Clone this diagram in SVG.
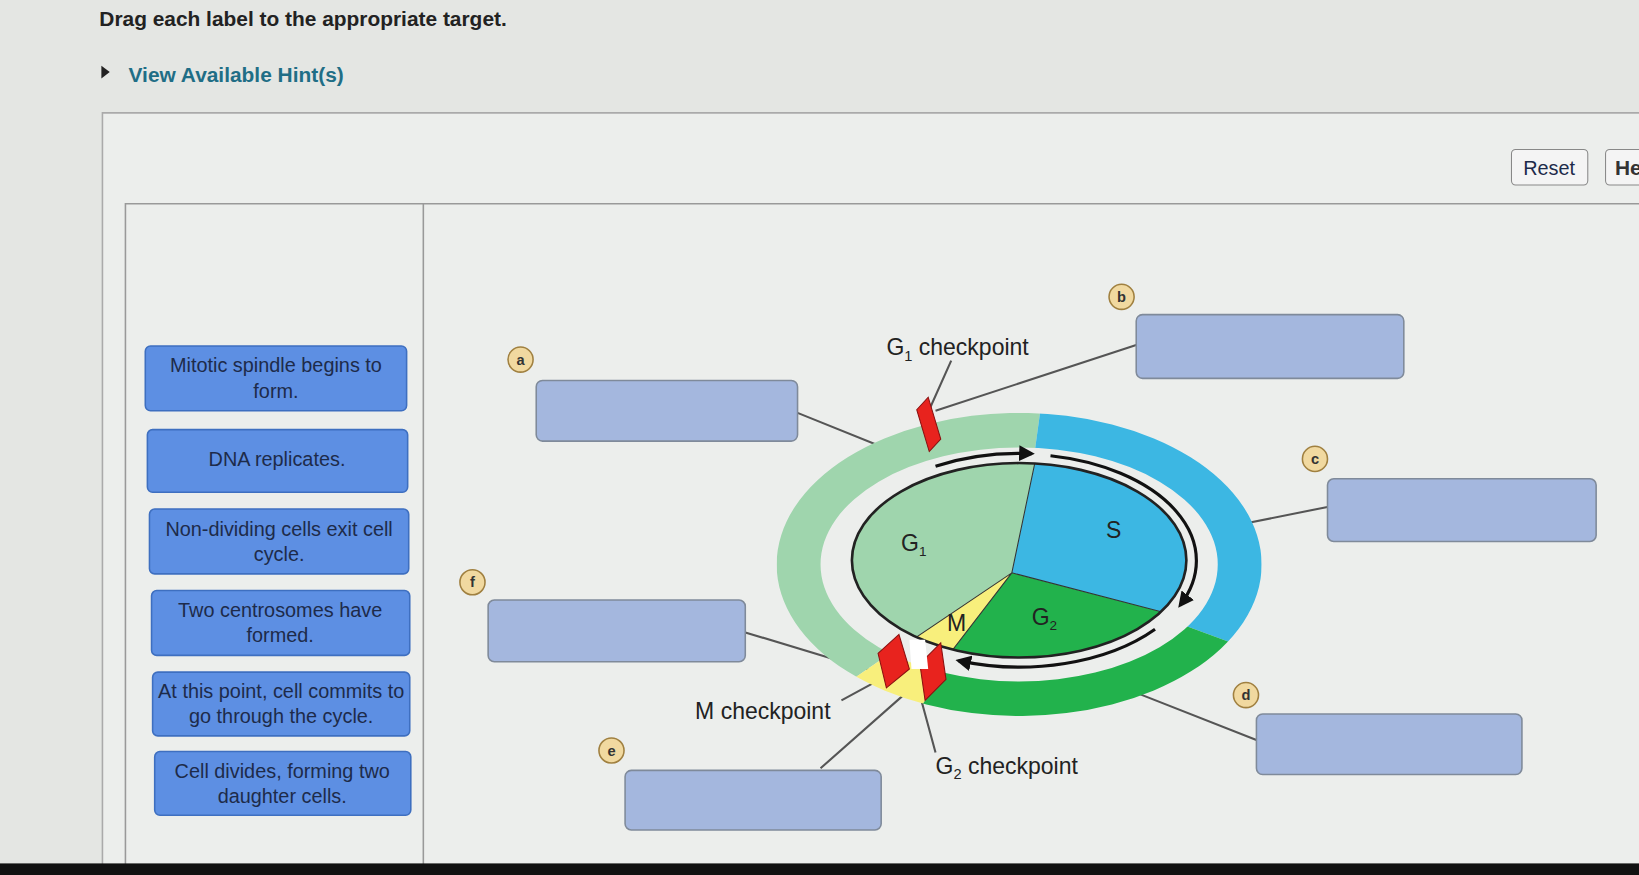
<svg xmlns="http://www.w3.org/2000/svg" width="1639" height="875" viewBox="0 0 1639 875">
<style>
.lbl{fill:#5d8fe3;stroke:#3e6fc0;stroke-width:1.5}
.lt{font-family:"Liberation Sans",Arial,sans-serif;font-size:19px;fill:#1d2b4a;text-anchor:middle}
.tgt{fill:#a4b7de;stroke:#7f8a9a;stroke-width:1.5}
.ld{stroke:#555;stroke-width:2;fill:none}
.dt{font-family:"Liberation Sans",Arial,sans-serif;font-size:22px;fill:#222}
.bc{fill:#f1d9a0;stroke:#a08040;stroke-width:1.5}
.bt{font-family:"Liberation Sans",Arial,sans-serif;font-size:14px;font-weight:bold;fill:#333;text-anchor:middle}
.cp{fill:#e8231e;stroke:#8a1010;stroke-width:1}
</style>
<defs>
<clipPath id="ring"><path clip-rule="evenodd" d="M743,540a232,145 0 1,0 464,0a232,145 0 1,0 -464,0ZM785,540a190,112 0 1,0 380,0a190,112 0 1,0 -380,0Z"/></clipPath>
<clipPath id="pie"><ellipse cx="975" cy="536" rx="160" ry="93"/></clipPath>
<marker id="ah" viewBox="0 0 10 10" refX="8" refY="5" markerWidth="5" markerHeight="5" orient="auto"><path d="M0,0L10,5L0,10Z" fill="#111"/></marker>
</defs>
<rect width="1639" height="875" fill="#e4e6e3"/>
<g transform="scale(1.04528)">
<rect x="98" y="108" width="1480" height="730" fill="#eceeec"/>
<path d="M98,838V108H1568" stroke="#aaa" stroke-width="1.5" fill="none"/>
<path d="M120,838V195H1568M405,195V838" stroke="#999" stroke-width="1.5" fill="none"/>
<rect x="0" y="826" width="1568" height="12" fill="#111"/>
<text x="95" y="25" font-family="Liberation Sans,Arial,sans-serif" font-size="20" font-weight="bold" fill="#222">Drag each label to the appropriate target.</text>
<path d="M97,63L105,69L97,75Z" fill="#222"/>
<text x="123" y="78" font-family="Liberation Sans,Arial,sans-serif" font-size="20" font-weight="bold" fill="#1f6e86">View Available Hint(s)</text>
<g id="reset"><rect x="1446" y="143" width="73" height="34" rx="4" fill="#f4f4f4" stroke="#888"/><text x="1482" y="167" class="lt" font-size="20" fill="#555">Reset</text></g>
<g id="help"><rect x="1536" y="143" width="40" height="34" rx="4" fill="#f4f4f4" stroke="#888"/><text x="1545" y="167" font-family="Liberation Sans,Arial,sans-serif" font-size="20" font-weight="bold" fill="#333">He</text></g>

<g id="l1"><rect class="lbl" x="139" y="331" width="250" height="62" rx="5"/><text class="lt" x="264" y="356">Mitotic spindle begins to</text><text class="lt" x="264" y="381">form.</text></g>
<g id="l2"><rect class="lbl" x="141" y="411" width="249" height="60" rx="5"/><text class="lt" x="265" y="446">DNA replicates.</text></g>
<g id="l3"><rect class="lbl" x="143" y="487" width="248" height="62" rx="5"/><text class="lt" x="267" y="513">Non-dividing cells exit cell</text><text class="lt" x="267" y="537">cycle.</text></g>
<g id="l4"><rect class="lbl" x="145" y="565" width="247" height="62" rx="5"/><text class="lt" x="268" y="590">Two centrosomes have</text><text class="lt" x="268" y="614">formed.</text></g>
<g id="l5"><rect class="lbl" x="146" y="643" width="246" height="61" rx="5"/><text class="lt" x="269" y="668">At this point, cell commits to</text><text class="lt" x="269" y="692">go through the cycle.</text></g>
<g id="l6"><rect class="lbl" x="148" y="719" width="245" height="61" rx="5"/><text class="lt" x="270" y="744">Cell divides, forming two</text><text class="lt" x="270" y="768">daughter cells.</text></g>

<g id="connectors">
<path class="ld" d="M763,395L850,430M1087,330L895,393M910,345L889,392M1270,485L1185,502M1202,708L1080,660M785,735L870,660M713,605L835,642M805,670L842,650M895,720L882,672"/>
</g>

<g id="ring-g" clip-path="url(#ring)">
<polygon points="975,540 1035,105 0,0 0,900 540,840" fill="#9fd5ad"/>
<polygon points="975,540 1035,105 1639,0 1639,800 1560,756" fill="#3cb7e3"/>
<polygon points="975,540 1560,756 1600,1000 705,930" fill="#22b24c"/>
<polygon points="975,540 705,930 540,840" fill="#f8ef7c"/>
</g>
<g id="pie-g" clip-path="url(#pie)">
<polygon points="968,548 1034,233 600,250 600,900 683,740" fill="#9fd5ad"/>
<polygon points="968,548 1034,233 1500,300 1394,659" fill="#3cb7e3"/>
<polygon points="968,548 1394,659 1300,1000 779,794" fill="#22b24c"/>
<polygon points="968,548 779,794 683,740" fill="#f8ef7c"/>
<path d="M968,548L1034,233M968,548L1394,659M968,548L779,794M968,548L683,740" stroke="#333" stroke-width="1"/>
</g>
<ellipse cx="975" cy="536" rx="160" ry="93" fill="none" stroke="#222" stroke-width="2.5"/>
<g fill="none" stroke="#111" stroke-width="3">
<path d="M895,446A170,102 0 0,1 987,434" marker-end="url(#ah)"/>
<path d="M1005,436A170,102 0 0,1 1129,579" marker-end="url(#ah)"/>
<path d="M1105,602A170,102 0 0,1 917,632" marker-end="url(#ah)"/>
</g>
<polygon class="cp" points="877,392 888,380 900,420 889,432"/>
<polygon class="cp" points="840,625 860,607 870,640 848,658"/>
<polygon class="cp" points="880,635 900,615 905,650 885,670"/>
<polygon points="870,612 885,612 888,640 872,640" fill="#fff"/>

<text class="dt" x="848" y="340">G<tspan font-size="14" dy="5">1</tspan><tspan dy="-5"> checkpoint</tspan></text>
<text class="dt" x="665" y="688">M checkpoint</text>
<text class="dt" x="895" y="740">G<tspan font-size="14" dy="5">2</tspan><tspan dy="-5"> checkpoint</tspan></text>
<text class="dt" x="862" y="527" font-size="20">G<tspan font-size="13" dy="5">1</tspan></text>
<text class="dt" x="1058" y="515" font-size="20">S</text>
<text class="dt" x="906" y="604" font-size="18">M</text>
<text class="dt" x="987" y="598" font-size="20">G<tspan font-size="13" dy="5">2</tspan></text>

<g id="ta"><rect class="tgt" x="513" y="364" width="250" height="58" rx="6"/><circle class="bc" cx="498" cy="344" r="12"/><text class="bt" x="498" y="349">a</text></g>
<g id="tb"><rect class="tgt" x="1087" y="301" width="256" height="61" rx="6"/><circle class="bc" cx="1073" cy="284" r="12"/><text class="bt" x="1073" y="289">b</text></g>
<g id="tc"><rect class="tgt" x="1270" y="458" width="257" height="60" rx="6"/><circle class="bc" cx="1258" cy="439" r="12"/><text class="bt" x="1258" y="444">c</text></g>
<g id="td"><rect class="tgt" x="1202" y="683" width="254" height="58" rx="6"/><circle class="bc" cx="1192" cy="665" r="12"/><text class="bt" x="1192" y="670">d</text></g>
<g id="te"><rect class="tgt" x="598" y="737" width="245" height="57" rx="6"/><circle class="bc" cx="585" cy="718" r="12"/><text class="bt" x="585" y="723">e</text></g>
<g id="tf"><rect class="tgt" x="467" y="574" width="246" height="59" rx="6"/><circle class="bc" cx="452" cy="557" r="12"/><text class="bt" x="452" y="562">f</text></g>
</g>
</svg>
